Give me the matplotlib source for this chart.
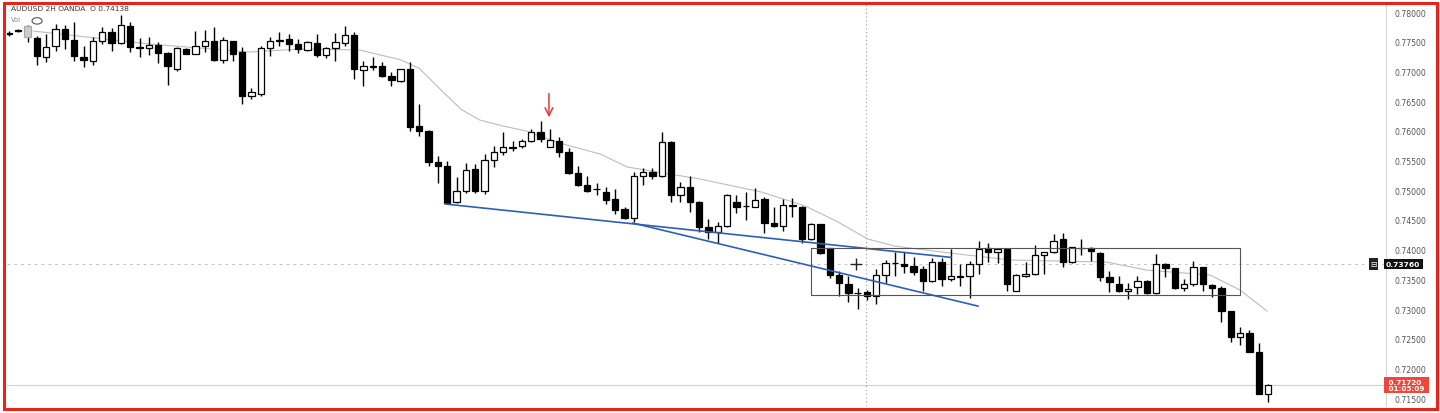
#!/usr/bin/env python3

import matplotlib
matplotlib.use('Agg')
import matplotlib.pyplot as plt
from matplotlib.patches import Rectangle, Ellipse


# candle OHLC (oldest first)
opens = [
    0.7765, 0.7769, 0.77769, 0.77557, 0.77247, 0.77422, 0.77714, 0.77534,
    0.77247, 0.7718, 0.77517, 0.77668, 0.77478, 0.77769, 0.77406, 0.77389,
    0.77444, 0.7731, 0.7704, 0.77385, 0.77293, 0.77432, 0.77507, 0.77197,
    0.77517, 0.77321, 0.76585, 0.76619, 0.77389, 0.77517, 0.77545, 0.77461,
    0.77365, 0.77478, 0.77276, 0.77394, 0.77473, 0.77621, 0.77028, 0.77069,
    0.77096, 0.76917, 0.76843, 0.7704, 0.76075, 0.76001, 0.75479, 0.75402,
    0.74795, 0.74991, 0.75356, 0.74991, 0.75508, 0.75637, 0.75722, 0.75749,
    0.75823, 0.75974, 0.75722, 0.75833, 0.75637, 0.75289, 0.75087, 0.75019,
    0.74974, 0.74851, 0.74683, 0.74526, 0.75233, 0.75311, 0.75233, 0.75806,
    0.74918, 0.75048, 0.74805, 0.74374, 0.7429, 0.74391, 0.74795, 0.74728,
    0.74711, 0.74851, 0.74442, 0.74391, 0.74738, 0.74725, 0.74177, 0.74428,
    0.7402, 0.73571, 0.7342, 0.73268, 0.7329, 0.73223, 0.73571, 0.73773,
    0.73756, 0.73718, 0.73672, 0.7347, 0.7379, 0.73512, 0.73543, 0.73559,
    0.73756, 0.74031, 0.73953, 0.74014, 0.73302, 0.73554, 0.73588, 0.73913,
    0.73953, 0.74177, 0.73785, 0.74026, 0.74026, 0.7395, 0.73543, 0.7342,
    0.73307, 0.73374, 0.73465, 0.73263, 0.73756, 0.73684, 0.73347, 0.7342,
    0.73701, 0.73403, 0.73347, 0.72968, 0.72522, 0.72594, 0.7228, 0.71567,
]
highs = [
    0.7768, 0.7772, 0.77781, 0.77601, 0.7763, 0.77798, 0.77786, 0.77827,
    0.77432, 0.77574, 0.77752, 0.77726, 0.77955, 0.77827, 0.77557, 0.77574,
    0.7749, 0.77321, 0.77406, 0.7739, 0.77685, 0.77702, 0.77742, 0.77574,
    0.77517, 0.77406, 0.76715, 0.77432, 0.77574, 0.77658, 0.7763, 0.77545,
    0.77517, 0.7763, 0.77406, 0.77646, 0.77759, 0.77658, 0.7718, 0.77247,
    0.77153, 0.76985, 0.77045, 0.77153, 0.76451, 0.76018, 0.7558, 0.75496,
    0.75216, 0.75457, 0.7544, 0.75609, 0.75749, 0.75984, 0.75833, 0.75861,
    0.7603, 0.7617, 0.7603, 0.7589, 0.75705, 0.75402, 0.75243, 0.7512,
    0.75048, 0.75019, 0.74711, 0.75301, 0.75368, 0.75368, 0.75984, 0.75833,
    0.75142, 0.75243, 0.74822, 0.74514, 0.74459, 0.74935, 0.74918, 0.74964,
    0.75031, 0.7488, 0.74711, 0.74851, 0.74863, 0.74728, 0.74447, 0.7443,
    0.74021, 0.73643, 0.73559, 0.73347, 0.7332, 0.73672, 0.73829, 0.73953,
    0.73963, 0.73869, 0.73728, 0.73857, 0.73852, 0.74009, 0.73756, 0.73807,
    0.74152, 0.74105, 0.74026, 0.74017, 0.73588, 0.73795, 0.74073, 0.73958,
    0.74262, 0.74273, 0.74048, 0.74177, 0.74038, 0.73953, 0.73633, 0.73559,
    0.73431, 0.73559, 0.73487, 0.73925, 0.73773, 0.7369, 0.73504, 0.73812,
    0.73706, 0.7342, 0.73381, 0.7297, 0.7269, 0.7265, 0.72426, 0.71735,
]
lows = [
    0.7760, 0.7766, 0.77495, 0.77107, 0.77163, 0.77338, 0.77377, 0.7718,
    0.77069, 0.77113, 0.77461, 0.77338, 0.77461, 0.77321, 0.77237, 0.77276,
    0.77141, 0.76771, 0.77011, 0.7729, 0.7729, 0.77321, 0.7718, 0.77141,
    0.7717, 0.76451, 0.76535, 0.7659, 0.77264, 0.77422, 0.77348, 0.7731,
    0.77338, 0.7725, 0.7722, 0.7717, 0.77432, 0.7688, 0.76759, 0.77028,
    0.769, 0.76749, 0.7683, 0.76001, 0.75917, 0.75412, 0.7512, 0.74767,
    0.74784, 0.74952, 0.74952, 0.74935, 0.75385, 0.75592, 0.75664, 0.7571,
    0.75806, 0.75806, 0.7572, 0.75553, 0.7528, 0.75078, 0.74964, 0.74918,
    0.74767, 0.74598, 0.74514, 0.74459, 0.75087, 0.75188, 0.75216, 0.74805,
    0.74805, 0.74637, 0.7429, 0.74177, 0.7411, 0.74374, 0.74615, 0.74502,
    0.7471, 0.74278, 0.74374, 0.74317, 0.74543, 0.7411, 0.74166, 0.73925,
    0.73516, 0.73223, 0.73111, 0.72999, 0.7316, 0.73083, 0.73436, 0.73559,
    0.73605, 0.73571, 0.73307, 0.73453, 0.73391, 0.73475, 0.73391, 0.73184,
    0.73596, 0.7379, 0.73773, 0.7331, 0.73297, 0.73543, 0.73565, 0.73588,
    0.7395, 0.73711, 0.73768, 0.73913, 0.73812, 0.73475, 0.7328, 0.73293,
    0.73167, 0.73251, 0.73251, 0.73251, 0.73532, 0.73343, 0.73307, 0.73391,
    0.73307, 0.73196, 0.72785, 0.72438, 0.72392, 0.72274, 0.71562, 0.71438,
]
closes = [
    0.7763, 0.7768, 0.77574, 0.77264, 0.77416, 0.77714, 0.77545, 0.77264,
    0.77192, 0.77517, 0.77668, 0.77478, 0.77781, 0.77406, 0.77389, 0.77444,
    0.7731, 0.77086, 0.77389, 0.77293, 0.77422, 0.77517, 0.77197, 0.77534,
    0.77293, 0.76585, 0.76648, 0.77389, 0.77517, 0.77537, 0.77461, 0.77377,
    0.7749, 0.77281, 0.77394, 0.7749, 0.77613, 0.77035, 0.77096, 0.77086,
    0.76917, 0.7686, 0.77035, 0.76058, 0.76001, 0.75469, 0.75402, 0.74784,
    0.74991, 0.75344, 0.74991, 0.75508, 0.75637, 0.75722, 0.75716, 0.75833,
    0.75974, 0.75861, 0.75845, 0.75637, 0.75284, 0.75087, 0.74991, 0.75014,
    0.74839, 0.74671, 0.74526, 0.75243, 0.75311, 0.75233, 0.75806, 0.74918,
    0.75048, 0.74805, 0.74388, 0.7429, 0.74391, 0.74918, 0.74711, 0.74733,
    0.74839, 0.74447, 0.74401, 0.7475, 0.74743, 0.74177, 0.7443, 0.73942,
    0.73571, 0.73436, 0.73268, 0.73263, 0.73212, 0.73571, 0.73773, 0.73778,
    0.73718, 0.73627, 0.73475, 0.73795, 0.73512, 0.73563, 0.73549, 0.73756,
    0.74017, 0.73953, 0.74014, 0.73428, 0.73571, 0.73588, 0.73903, 0.73953,
    0.74149, 0.73785, 0.7404, 0.74031, 0.7397, 0.73543, 0.73448, 0.73297,
    0.7334, 0.73465, 0.73263, 0.73756, 0.73684, 0.73347, 0.7342, 0.73701,
    0.7342, 0.73347, 0.7297, 0.72522, 0.72594, 0.7228, 0.71567, 0.7172,
]

# thin grey moving average, read at a few bars
ma_bar = [2.6, 15.1, 25.8, 31.2, 37.6, 42.0, 44.0, 46.5, 48.5, 50.5, 53.0,
          55.5, 59.1, 63.4, 66.3, 74.1, 80.7, 85.4, 88.9, 92.1, 95.0, 100.9,
          107.5, 117.7, 122.0, 128.8, 132.0, 134.9]
ma_val = [0.7768, 0.77461, 0.77327, 0.77377, 0.7736, 0.77195, 0.7705,
          0.7666, 0.7636, 0.7618, 0.7608, 0.75996, 0.7579, 0.75609, 0.7539,
          0.75188, 0.74969, 0.74733, 0.74464, 0.74177, 0.74059, 0.73942,
          0.73824, 0.7379, 0.73655, 0.73571, 0.73319, 0.72965]

# drawn objects: two blue trend lines, range box, arrow
trend1 = ([46.8, 101.0], [0.74767, 0.73869])
trend2 = ([66.9, 103.9], [0.74447, 0.73049])
box_bars = (86.0, 132.0)
box_prices = (0.73234, 0.74021)
arrow_bar = 57.9
arrow_prices = (0.76675, 0.76181)

price_ticks = [0.715 + 0.005 * k for k in range(14)]
last_price = 0.7172
cross_price = 0.7376
cross_bar = 91.9

W, H = 1440, 414
fig = plt.figure(figsize=(W / 100, H / 100), dpi=100)
fig.patch.set_facecolor('white')

ax = fig.add_axes([7 / W, 7 / H, 1379 / W, 402 / H])
ax.set_facecolor('white')
ax.set_xlim(-0.21, 147.65)
ax.set_ylim(0.71367, 0.78135)

for s in ['top', 'left', 'bottom']:
    ax.spines[s].set_visible(False)
ax.spines['right'].set_color('#d4d4d4')
ax.spines['right'].set_linewidth(0.8)
ax.set_xticks([])
ax.yaxis.tick_right()
ax.set_yticks(price_ticks)
ax.set_yticklabels(['%.5f' % p for p in price_ticks])
ax.tick_params(axis='y', length=0, pad=6, labelsize=5.6, labelcolor='#555555')

# reference lines
ax.axhline(last_price, color='#d0d0d0', lw=0.8, zorder=1)
ax.axhline(cross_price, color='#c4c4c4', lw=0.7, ls=(0, (3, 4)), zorder=1)
ax.axvline(cross_bar, color='#999999', lw=0.8, ls=(0, (1, 2.5)), zorder=1)

ax.plot(ma_bar, ma_val, color='#bdbdbd', lw=0.8, zorder=2)

# candles
bw = 0.68
for i, (o, h, l, c) in enumerate(zip(opens, highs, lows, closes)):
    ax.vlines(i, l, h, color='black', lw=1.0, zorder=3)
    lo, hi = min(o, c), max(o, c)
    if hi - lo < 0.00005:
        hi = lo + 0.00005
    face = 'white' if c >= o else 'black'
    edge = 'black'
    if i == 2:
        face, edge = '#cccccc', '#aaaaaa'
    ax.add_patch(Rectangle((i - bw / 2, lo), bw, hi - lo, facecolor=face,
                           edgecolor=edge, lw=0.9, zorder=4))

# drawings
ax.plot(*trend1, color='#2f5fb3', lw=1.2, zorder=5)
ax.plot(*trend2, color='#2f5fb3', lw=1.2, zorder=5)
ax.add_patch(Rectangle((box_bars[0], box_prices[0]), box_bars[1] - box_bars[0],
                       box_prices[1] - box_prices[0], fill=False,
                       edgecolor='#555555', lw=0.8, zorder=5))
ax.annotate('', xy=(arrow_bar, arrow_prices[1]),
            xytext=(arrow_bar, arrow_prices[0]),
            arrowprops=dict(arrowstyle='->', color='#e03a3a', lw=1.1,
                            mutation_scale=14), zorder=6)
ax.plot([cross_bar - 1.1], [cross_price], marker='+', color='#222222',
        ms=9, mew=1.0, zorder=6)

# header texts
ax.text(0.003, 0.997, 'AUDUSD 2H OANDA  O 0.74138', transform=ax.transAxes,
        fontsize=5.4, color='#3a3a3a', va='top', ha='left')
ax.text(0.003, 0.970, 'Vol', transform=ax.transAxes, fontsize=4.8,
        color='#888888', va='top', ha='left')
ax.add_patch(Ellipse((0.0218, 0.958), 0.0073, 0.016, transform=ax.transAxes,
                     fill=False, edgecolor='#555555', lw=0.8))

# price labels on the axis
ax.text(1.0, last_price, ' 0.71720 \n 01:05:09 ',
        transform=ax.get_yaxis_transform(), fontsize=5.2, color='white',
        fontweight='bold', va='center', ha='left', linespacing=1.0,
        bbox=dict(boxstyle='square,pad=0.25', fc='#f0473a', ec='none'),
        zorder=7, clip_on=False)
ax.text(1.0, cross_price, '0.73760', transform=ax.get_yaxis_transform(),
        fontsize=5.4, color='white', fontweight='bold', va='center',
        ha='left', bbox=dict(boxstyle='square,pad=0.3', fc='#111111',
                             ec='none'), zorder=7, clip_on=False)
ax.text(0.9885, cross_price, '\u229f', transform=ax.get_yaxis_transform(),
        fontsize=5.5, color='white', va='center', ha='left',
        bbox=dict(boxstyle='square,pad=0.2', fc='#222222', ec='none'),
        zorder=7, clip_on=False)

# red frame round the whole picture
fig.patches.append(Rectangle((3.5 / W, 4.5 / H), 1433 / W, 406 / H,
                             transform=fig.transFigure, fill=False,
                             edgecolor='#e8231c', lw=2.2))

fig.savefig('out.png', dpi=100)
